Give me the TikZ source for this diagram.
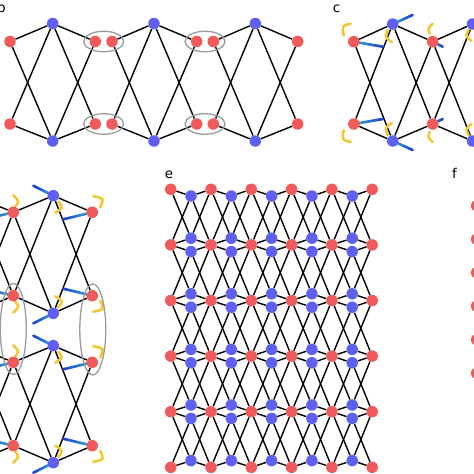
\documentclass[tikz,border=0pt]{standalone}
\usepackage{fontspec}
\setmainfont{DejaVu Sans}
\usetikzlibrary{calc,shapes.geometric}
\definecolor{redc}{RGB}{240,90,90}
\definecolor{bluec}{RGB}{95,95,240}
\definecolor{armA}{RGB}{50,175,215}
\definecolor{armB}{RGB}{30,60,200}
\definecolor{yelc}{RGB}{243,200,50}
\definecolor{ellc}{RGB}{155,155,155}
\pgfdeclarelayer{bg}
\pgfsetlayers{bg,main}
\tikzset{
  rn/.style={circle,fill=redc,minimum size=11.5pt,inner sep=0pt},
  bn/.style={circle,fill=bluec,minimum size=11.5pt,inner sep=0pt},
  lnk/.style={black,line width=1.4pt},
  ellst/.style={ellipse,draw=ellc,line width=1.3pt,inner sep=0pt},
  armst/.style={line width=2.6pt,line cap=round},
  yst/.style={yelc,line width=2.6pt,line cap=round},
  lbl/.style={font=\fontsize{13.5}{14}\selectfont,inner sep=0pt,anchor=base}
}
\newcommand\garm[3]{%
  \foreach \t in {0,...,9}{%
    \pgfmathsetmacro\pa{\t/10}\pgfmathsetmacro\pb{(\t+1)/10}\pgfmathtruncatemacro\mixv{100-\t*10}%
    \draw[armst,armA!\mixv!armB] ($(#1.center)+\pa*(#2,#3)$) -- ($(#1.center)+\pb*(#2,#3)$);}}
\newcommand\yarc[4]{%
  \draw[yst] ($(#1.center)+(#2)$) .. controls ($(#1.center)+(#3)$) .. ($(#1.center)+(#4)$);}
\begin{document}
\begin{tikzpicture}[x=1pt,y=-1pt]
\useasboundingbox (0,0) rectangle (474,474);
% ---------------- labels
\node[lbl,anchor=base east] (lb) at (6,12.3) {b};
\node[lbl] (lc) at (336.5,12.3) {c};
\node[lbl] (le) at (169,178.5) {e};
\node[lbl] (lf) at (454.5,178.5) {f};
% ---------------- panel b
\node[ellst,minimum width=40pt,minimum height=20.5pt] (bE1) at (103.7,41.5) {};
\node[ellst,minimum width=40pt,minimum height=20.5pt] (bE2) at (205,41.5) {};
\node[ellst,minimum width=40pt,minimum height=20.5pt] (bE3) at (103.7,124) {};
\node[ellst,minimum width=40pt,minimum height=20.5pt] (bE4) at (205,124) {};
\foreach \n/\x in {1/10,2/95.3,3/112,4/196.7,5/213.3,6/297.7}{
  \node[rn] (bR\n) at (\x,41.5) {};
  \node[rn] (bS\n) at (\x,124) {};
}
\foreach \n/\x in {1/52.7,2/154,3/255.3}{
  \node[bn] (bB\n) at (\x,23.5) {};
  \node[bn] (bC\n) at (\x,141) {};
}
% ---------------- panel c
\node[rn] (cR1) at (353.8,41.7) {};
\node[bn] (cB1) at (392.7,24) {};
\node[rn] (cR2) at (432.7,41.7) {};
\node[bn] (cB2) at (472.5,24) {};
\node[rn] (cS1) at (353.8,124) {};
\node[bn] (cC1) at (392.7,141) {};
\node[rn] (cS2) at (432.7,124) {};
\node[bn] (cC2) at (472.5,141) {};
% ---------------- panel d
\node[ellst,minimum width=26pt,minimum height=91pt] (dE1) at (13.3,329) {};
\node[ellst,minimum width=26pt,minimum height=91pt] (dE2) at (92.8,329.5) {};
\node[bn] (dB1) at (53.3,195.7) {};
\node[rn] (dR1) at (13.3,212.3) {};
\node[rn] (dQ1) at (92.3,212.3) {};
\node[rn] (dR2) at (13.3,295.7) {};
\node[rn] (dQ2) at (92.3,295.7) {};
\node[bn] (dB2) at (53.3,313.3) {};
\node[bn] (dB3) at (53.3,345.7) {};
\node[rn] (dR3) at (13.3,362.3) {};
\node[rn] (dQ3) at (92.3,362.3) {};
\node[rn] (dR4) at (13.3,445.7) {};
\node[rn] (dQ4) at (92.3,445.7) {};
\node[bn] (dB4) at (53.3,462.7) {};
\node[bn] (dA1) at (-26.7,195.7) {};
\node[bn] (dA2) at (-26.7,313.3) {};
\node[bn] (dA3) at (-26.7,345.7) {};
\node[bn] (dA4) at (-26.7,462.7) {};
% ---------------- panel e
\foreach \i in {0,...,5}{
  \foreach \k in {0,...,5}{
    \node[rn] (eR\i-\k) at ({170.7+40.3*\i},{189.3+55.6*\k}) {};
  }
}
\foreach \j in {0,...,4}{
  \foreach \k in {0,...,4}{
    \node[bn] (eD\j-\k) at ({191+40.3*\j},{189.3+55.6*\k+6.7}) {};
  }
  \foreach \k in {1,...,5}{
    \node[bn] (eU\j-\k) at ({191+40.3*\j},{189.3+55.6*\k-6.7}) {};
  }
}
% ---------------- panel f
\foreach \k in {0,...,5}{
  \node[rn] (fR\k) at (476.7,{205.7+33.5*\k}) {};
}
% ================= connectors
\begin{pgfonlayer}{bg}
% panel b
\foreach \k/\l/\r in {1/1/2,2/3/4,3/5/6}{
  \draw[lnk] (bB\k) -- (bR\l);
  \draw[lnk] (bB\k) -- (bR\r);
  \draw[lnk] (bB\k) -- (bS\l);
  \draw[lnk] (bB\k) -- (bS\r);
  \draw[lnk] (bC\k) -- (bS\l);
  \draw[lnk] (bC\k) -- (bS\r);
  \draw[lnk] (bC\k) -- (bR\l);
  \draw[lnk] (bC\k) -- (bR\r);
}
% panel c
\foreach \a/\b in {cB1/cR1,cB1/cR2,cB1/cS1,cB1/cS2,cC1/cS1,cC1/cS2,cC1/cR1,cC1/cR2,
                   cB2/cR2,cB2/cS2,cC2/cS2,cC2/cR2}{
  \draw[lnk] (\a) -- (\b);
}
% panel d
\foreach \a/\b in {dB1/dR1,dB1/dQ1,dB1/dR2,dB1/dQ2,dB2/dR2,dB2/dQ2,dB2/dR1,dB2/dQ1,
                   dB3/dR3,dB3/dQ3,dB3/dR4,dB3/dQ4,dB4/dR4,dB4/dQ4,dB4/dR3,dB4/dQ3,
                   dA1/dR1,dA1/dR2,dA2/dR1,dA2/dR2,dA3/dR3,dA3/dR4,dA4/dR3,dA4/dR4}{
  \draw[lnk] (\a) -- (\b);
}
% panel e
\foreach \j in {0,...,4}{
  \pgfmathtruncatemacro\jn{\j+1}
  \foreach \k in {0,...,4}{
    \pgfmathtruncatemacro\kn{\k+1}
    \draw[lnk] (eD\j-\k) -- (eR\j-\k);
    \draw[lnk] (eD\j-\k) -- (eR\jn-\k);
    \draw[lnk] (eD\j-\k) -- (eR\j-\kn);
    \draw[lnk] (eD\j-\k) -- (eR\jn-\kn);
  }
  \foreach \k in {1,...,5}{
    \pgfmathtruncatemacro\kp{\k-1}
    \draw[lnk] (eU\j-\k) -- (eR\j-\k);
    \draw[lnk] (eU\j-\k) -- (eR\jn-\k);
    \draw[lnk] (eU\j-\k) -- (eR\j-\kp);
    \draw[lnk] (eU\j-\k) -- (eR\jn-\kp);
  }
}
% ---- arms, panel c
\garm{cR1}{29}{5}
\garm{cB1}{20}{-9}
\garm{cR2}{10}{5}
\garm{cS1}{29}{-5}
\garm{cC1}{20}{9}
\garm{cS2}{10}{-5}
\yarc{cR1}{-10,-6}{-12,-16}{-3,-18}
\yarc{cB1}{-5,6}{-8,13}{-1,18}
\yarc{cR2}{-3,-8}{-5,-13}{0,-18}
\yarc{cB2}{-4,6}{-7,12}{-1,17}
\yarc{cS1}{-10,6}{-12,16}{-3,18}
\yarc{cC1}{-5,-6}{-8,-13}{-1,-18}
\yarc{cS2}{-3,8}{-5,13}{0,18}
\yarc{cC2}{-4,-6}{-7,-12}{-1,-17}
% ---- arms, panel d
\garm{dB1}{-20}{-10}
\garm{dR1}{-29}{7}
\garm{dQ1}{-29}{7}
\garm{dR2}{-29}{-7}
\garm{dQ2}{-29}{-7}
\garm{dB2}{-20}{10}
\garm{dB3}{-20}{-10}
\garm{dR3}{-29}{7}
\garm{dQ3}{-29}{7}
\garm{dR4}{-29}{-7}
\garm{dQ4}{-29}{-7}
\garm{dB4}{-20}{10}
\yarc{dB1}{5,6}{10,12}{2,17}
\yarc{dR1}{2,-6}{6,-11}{0,-17}
\yarc{dQ1}{1,-16}{12,-14}{8,-5}
\yarc{dR2}{2,6}{6,11}{0,17}
\yarc{dQ2}{1,16}{12,14}{8,5}
\yarc{dB2}{5,-6}{10,-12}{2,-17}
\yarc{dB3}{5,6}{10,12}{2,17}
\yarc{dR3}{2,-6}{6,-11}{0,-17}
\yarc{dQ3}{1,-16}{12,-14}{8,-5}
\yarc{dR4}{2,6}{6,11}{0,17}
\yarc{dQ4}{1,16}{12,14}{8,5}
\yarc{dB4}{5,-6}{10,-12}{2,-17}
\end{pgfonlayer}
\end{tikzpicture}
\end{document}
